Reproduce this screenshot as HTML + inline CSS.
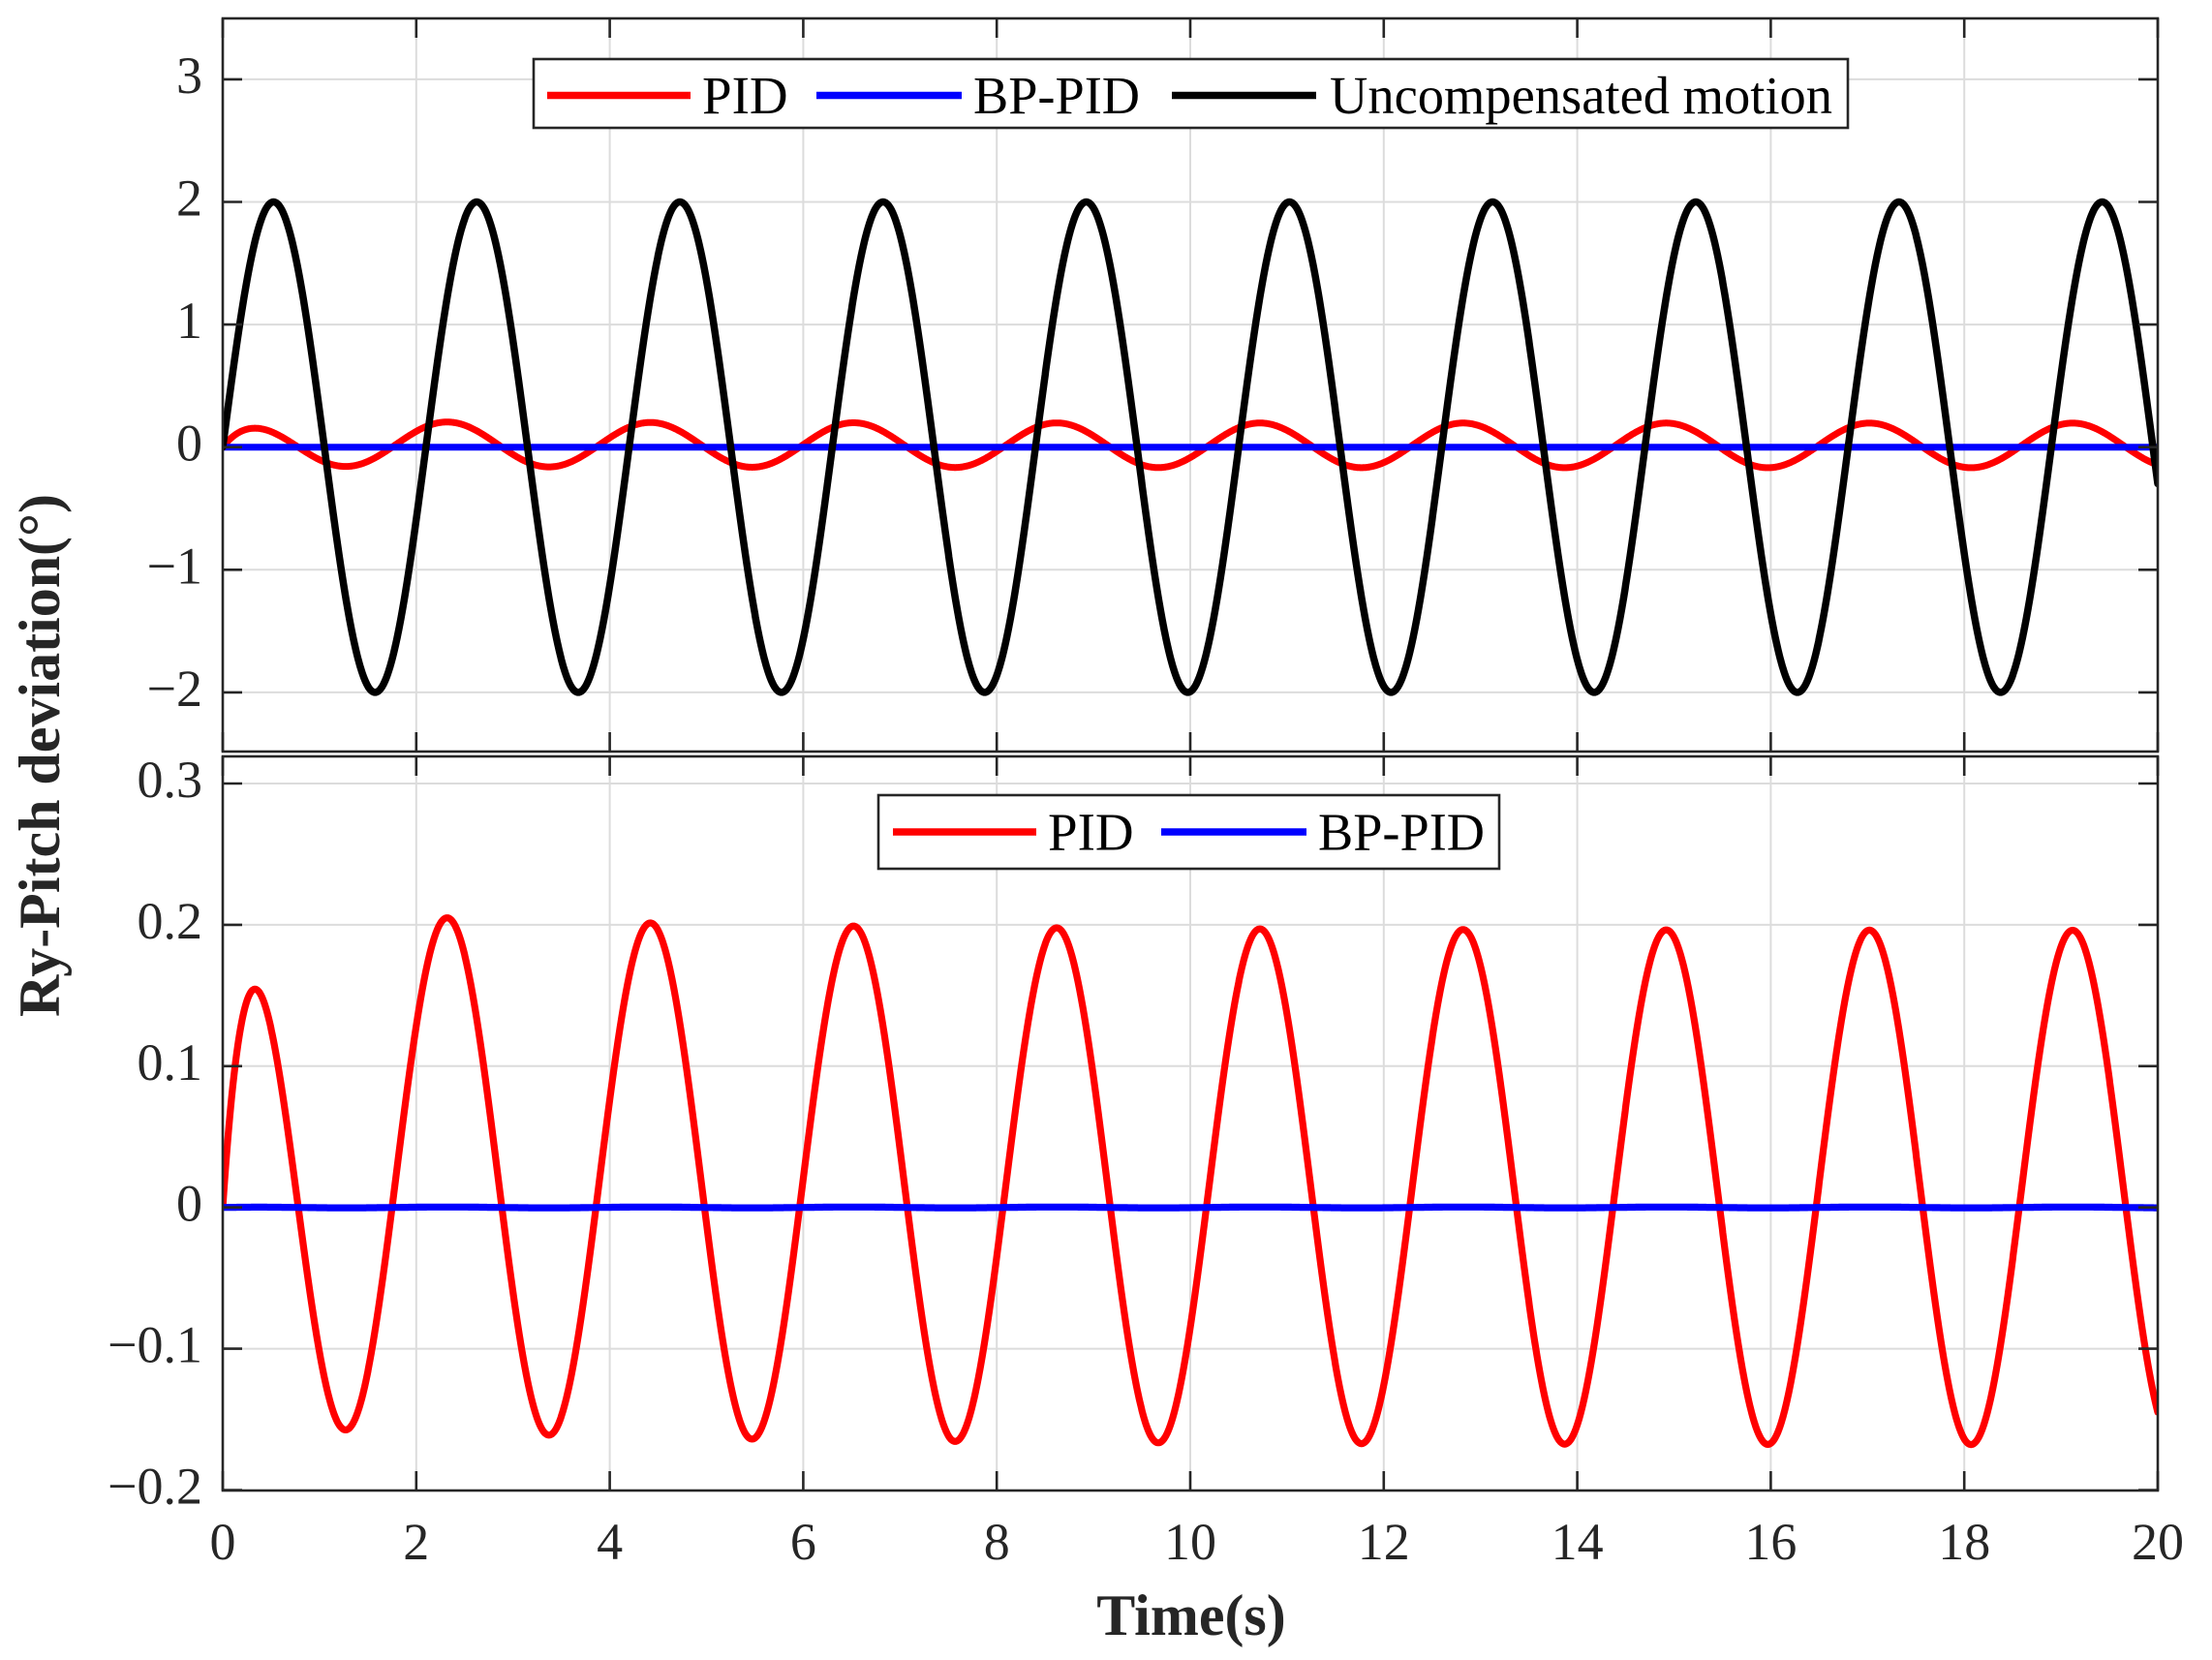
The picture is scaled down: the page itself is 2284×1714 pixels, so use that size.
<!DOCTYPE html>
<html>
<head>
<meta charset="utf-8">
<style>
  html,body{margin:0;padding:0;background:#fff;}
  svg{display:block;}
  .tick{font-family:"Liberation Serif","DejaVu Serif",serif;font-size:54px;fill:#262626;}
  .leg{font-family:"Liberation Serif","DejaVu Serif",serif;font-size:55px;fill:#000;}
  .lab{font-family:"Liberation Serif","DejaVu Serif",serif;font-size:60px;font-weight:bold;fill:#262626;}
</style>
</head>
<body>
<svg id="fig" width="2284" height="1714" viewBox="0 0 2284 1714" xmlns="http://www.w3.org/2000/svg">
  <rect x="0" y="0" width="2284" height="1714" fill="#fff"/>
  <defs>
    <clipPath id="c1"><rect x="230" y="19" width="1998" height="757"/></clipPath>
    <clipPath id="c2"><rect x="230" y="781" width="1998" height="758"/></clipPath>
  </defs>
  <g id="grid" stroke="#dcdcdc" stroke-width="2" fill="none"></g>
  <g clip-path="url(#c1)" fill="none" stroke-linejoin="round" stroke-linecap="round">
    <path id="r1" stroke="#ff0000" stroke-width="7"/>
    <path id="b1" stroke="#0000ff" stroke-width="7"/>
    <path id="k1" stroke="#000000" stroke-width="7.5"/>
  </g>
  <g clip-path="url(#c2)" fill="none" stroke-linejoin="round" stroke-linecap="round">
    <path id="r2" stroke="#ff0000" stroke-width="7.2"/>
    <path id="b2" stroke="#0000ff" stroke-width="7.2"/>
  </g>
  <g id="axes" stroke="#262626" stroke-width="2.6" fill="none"></g>
  <g id="labels"></g>

  <!-- top legend -->
  <rect x="551" y="61" width="1357" height="71" fill="#fff" stroke="#262626" stroke-width="2.6"/>
  <line x1="565" y1="98.5" x2="713" y2="98.5" stroke="#ff0000" stroke-width="7.5"/>
  <text class="leg" x="725" y="117">PID</text>
  <line x1="843" y1="98.5" x2="993" y2="98.5" stroke="#0000ff" stroke-width="7.5"/>
  <text class="leg" x="1005" y="117" textLength="172" lengthAdjust="spacingAndGlyphs">BP-PID</text>
  <line x1="1210" y1="98.5" x2="1359" y2="98.5" stroke="#000000" stroke-width="7.5"/>
  <text class="leg" x="1373" y="117" textLength="519" lengthAdjust="spacingAndGlyphs">Uncompensated motion</text>

  <!-- bottom legend -->
  <rect x="907" y="821" width="641" height="76" fill="#fff" stroke="#262626" stroke-width="2.6"/>
  <line x1="922" y1="859" x2="1070" y2="859" stroke="#ff0000" stroke-width="7.5"/>
  <text class="leg" x="1082" y="877.5">PID</text>
  <line x1="1199" y1="859" x2="1349" y2="859" stroke="#0000ff" stroke-width="7.5"/>
  <text class="leg" x="1361" y="877.5" textLength="172" lengthAdjust="spacingAndGlyphs">BP-PID</text>

  <!-- axis labels -->
  <text class="lab" x="1230" y="1688" text-anchor="middle">Time(s)</text>
  <text class="lab" transform="translate(61,780) rotate(-90)" text-anchor="middle" textLength="540" lengthAdjust="spacingAndGlyphs">Ry-Pitch deviation(°)</text>
</svg>
<script>
(function(){
  var NS="http://www.w3.org/2000/svg";
  var X0=230, X1=2228;
  function X(t){return X0+(X1-X0)*t/20;}
  function Y1(v){return 461.7-126.6*v;}
  function Y2(v){return 1246.7-1459*v;}
  var T1=19, B1=776, T2=781, B2=1539;
  var w=2*Math.PI/2.1;
  function red(t){return 0.182*Math.sin(w*t+0.913)+0.014-0.174*Math.exp(-t/0.25)+0.016*Math.exp(-t/4);}
  function blk(t){return 2*Math.sin(w*t);}
  function blu(t){return 0.0003*Math.sin(w*t+0.9)*(1-Math.exp(-t*3));}
  function path(f,Y){
    var N=4000,d="";
    for(var i=0;i<=N;i++){var t=20*i/N;d+=(i?"L":"M")+X(t).toFixed(1)+" "+Y(f(t)).toFixed(1);}
    return d;
  }
  document.getElementById("r1").setAttribute("d",path(red,Y1));
  document.getElementById("b1").setAttribute("d",path(function(t){return 0;},Y1));
  document.getElementById("k1").setAttribute("d",path(blk,Y1));
  document.getElementById("r2").setAttribute("d",path(red,Y2));
  document.getElementById("b2").setAttribute("d",path(blu,Y2));

  var grid=document.getElementById("grid"), axes=document.getElementById("axes"), labels=document.getElementById("labels");
  function line(g,x1,y1,x2,y2){var l=document.createElementNS(NS,"line");l.setAttribute("x1",x1);l.setAttribute("y1",y1);l.setAttribute("x2",x2);l.setAttribute("y2",y2);g.appendChild(l);}
  function text(x,y,s,anchor){var t=document.createElementNS(NS,"text");t.setAttribute("x",x);t.setAttribute("y",y);t.setAttribute("class","tick");t.setAttribute("text-anchor",anchor);t.textContent=s;labels.appendChild(t);}
  var TL=20;
  for(var k=0;k<=20;k+=2){
    var x=X(k);
    if(k>0&&k<20){line(grid,x,T1,x,B1);line(grid,x,T2,x,B2);}
    line(axes,x,B1,x,B1-TL);line(axes,x,T1,x,T1+TL);
    line(axes,x,B2,x,B2-TL);line(axes,x,T2,x,T2+TL);
    text(x,1610,String(k),"middle");
  }
  var yt1=[-2,-1,0,1,2,3];
  yt1.forEach(function(v){
    var y=Y1(v);
    line(grid,X0,y,X1,y);
    line(axes,X0,y,X0+TL,y);line(axes,X1,y,X1-TL,y);
    text(209,y+14,(v<0?"\u2212":"")+Math.abs(v),"end");
  });
  var yt2=[-0.2,-0.1,0,0.1,0.2,0.3];
  yt2.forEach(function(v){
    var y=Y2(v);
    if(v>-0.15) line(grid,X0,y,X1,y);
    line(axes,X0,y,X0+TL,y);line(axes,X1,y,X1-TL,y);
    var s=(v===0)?"0":Math.abs(v).toFixed(1);
    text(209,y+14,(v<0?"\u2212":"")+s,"end");
  });
  function rect(x,y,w,h){var r=document.createElementNS(NS,"rect");r.setAttribute("x",x);r.setAttribute("y",y);r.setAttribute("width",w);r.setAttribute("height",h);axes.appendChild(r);}
  rect(X0,T1,X1-X0,B1-T1);
  rect(X0,T2,X1-X0,B2-T2);
})();
</script>
</body>
</html>
